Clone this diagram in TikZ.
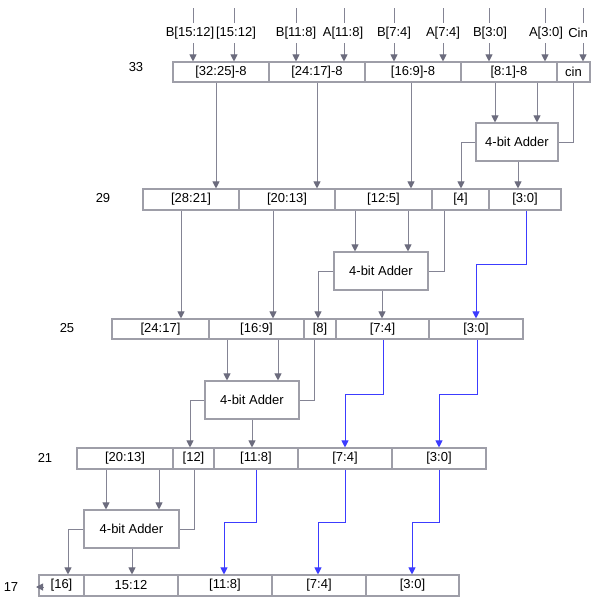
\documentclass[tikz,border=0pt]{standalone}
\usepackage{fontspec}
\setmainfont{Liberation Sans}
\usetikzlibrary{arrows.meta,calc}
\definecolor{lncol}{RGB}{132,132,148}
\definecolor{tipcol}{RGB}{108,108,126}
\definecolor{boxcol}{RGB}{158,158,168}
\definecolor{bluecol}{RGB}{60,60,255}
\tikzset{
  cell/.style={draw=boxcol,line width=1.1pt,inner sep=0pt,minimum height=20pt,font=\fontsize{13}{15}\selectfont},
  adder/.style={draw=boxcol,line width=1.1pt,inner sep=0pt,minimum width=94pt,minimum height=38pt,font=\fontsize{13}{15}\selectfont},
  lbl/.style={inner sep=0pt,font=\fontsize{13}{15}\selectfont},
  ln/.style={draw=lncol,line width=1pt},
  arr/.style={ln,-{Triangle[length=7pt,width=7pt,color=tipcol]}},
  barr/.style={draw=bluecol,line width=1pt,-{Triangle[length=7pt,width=7pt,color=bluecol]}}
}
\begin{document}
\begin{tikzpicture}[x=1pt,y=-1pt]
\useasboundingbox (0,0) rectangle (593,603);
% row labels
\node[lbl] (n33) at (136,67) {33};
\node[lbl] (n29) at (103,198) {29};
\node[lbl] (n25) at (67,328) {25};
\node[lbl] (n21) at (45,458) {21};
\node[lbl] (n17) at (11,587) {17};
% row 1
\node[cell,minimum width=96pt] (r1a) at (221,72) {[32:25]-8};
\node[cell,minimum width=96pt] (r1b) at (317,72) {[24:17]-8};
\node[cell,minimum width=96pt] (r1c) at (413,72) {[16:9]-8};
\node[cell,minimum width=96pt] (r1d) at (509,72) {[8:1]-8};
\node[cell,minimum width=33pt] (r1e) at (573.5,72) {cin};
% row 2
\node[cell,minimum width=96pt,minimum height=21pt] (r2a) at (191,199.5) {[28:21]};
\node[cell,minimum width=96pt,minimum height=21pt] (r2b) at (287,199.5) {[20:13]};
\node[cell,minimum width=97pt,minimum height=21pt] (r2c) at (383.5,199.5) {[12:5]};
\node[cell,minimum width=57pt,minimum height=21pt] (r2d) at (460.5,199.5) {[4]};
\node[cell,minimum width=72pt,minimum height=21pt] (r2e) at (525,199.5) {[3:0]};
% row 3
\node[cell,minimum width=97pt] (r3a) at (160.5,329) {[24:17]};
\node[cell,minimum width=95pt] (r3b) at (256.5,329) {[16:9]};
\node[cell,minimum width=32pt] (r3c) at (320,329) {[8]};
\node[cell,minimum width=93pt] (r3d) at (382.5,329) {[7:4]};
\node[cell,minimum width=94pt] (r3e) at (476,329) {[3:0]};
% row 4
\node[cell,minimum width=96pt,minimum height=21pt] (r4a) at (125,458.5) {[20:13]};
\node[cell,minimum width=41pt,minimum height=21pt] (r4b) at (193.5,458.5) {[12]};
\node[cell,minimum width=84pt,minimum height=21pt] (r4c) at (256,458.5) {[11:8]};
\node[cell,minimum width=94pt,minimum height=21pt] (r4d) at (345,458.5) {[7:4]};
\node[cell,minimum width=94pt,minimum height=21pt] (r4e) at (439,458.5) {[3:0]};
% row 5
\node[cell,minimum width=45pt,minimum height=21pt] (r5a) at (61.5,585.5) {[16]};
\node[cell,minimum width=94pt,minimum height=21pt] (r5b) at (131,585.5) {15:12};
\node[cell,minimum width=94pt,minimum height=21pt] (r5c) at (225,585.5) {[11:8]};
\node[cell,minimum width=94pt,minimum height=21pt] (r5d) at (319,585.5) {[7:4]};
\node[cell,minimum width=93pt,minimum height=21pt] (r5e) at (412.5,585.5) {[3:0]};
% adders
\node[adder,minimum width=82pt] (ad1) at (517,142) {4-bit Adder};
\node[adder] (ad2) at (381,271) {4-bit Adder};
\node[adder] (ad3) at (252,400) {4-bit Adder};
\node[adder,minimum width=95pt] (ad4) at (131.5,529) {4-bit Adder};
% input labels
\node[lbl] (iB15) at (190,33) {B[15:12]};
\node[lbl] (iA15) at (236,33) {[15:12]};
\node[lbl] (iB11) at (296,33) {B[11:8]};
\node[lbl] (iA11) at (343,33) {A[11:8]};
\node[lbl] (iB7) at (394,33) {B[7:4]};
\node[lbl] (iA7) at (443,33) {A[7:4]};
\node[lbl] (iB3) at (490,33) {B[3:0]};
\node[lbl] (iA3) at (546,33) {A[3:0]};
\node[lbl] (iC) at (578,33) {Cin};
% input top stubs and arrows
\foreach \x/\n/\c in {193/iB15/r1a,234/iA15/r1a,296/iB11/r1b,344/iA11/r1b,394/iB7/r1c,443/iA7/r1c,489/iB3/r1d,545/iA3/r1d,583/iC/r1e}{
  \draw[ln] (\x,8) -- (\x,23);
  \draw[arr] (\x,43) -- (\x,0 |- \c.north);
}
% row1 -> row2
\draw[arr] (216,0 |- r1a.south) -- (216,0 |- r2a.north);
\draw[arr] (317,0 |- r1b.south) -- (317,0 |- r2b.north);
\draw[arr] (411,0 |- r1c.south) -- (411,0 |- r2c.north);
\draw[arr] (495,0 |- r1d.south) -- (495,0 |- ad1.north);
\draw[arr] (537,0 |- r1d.south) -- (537,0 |- ad1.north);
\draw[ln] (573,0 |- r1e.south) |- (ad1.east);
\draw[arr] (ad1.west) -| (461,0 |- r2d.north);
\draw[arr] (518,0 |- ad1.south) -- (518,0 |- r2e.north);
% row2 -> row3
\coordinate (b1) at (526,264);
\draw[arr] (181,0 |- r2a.south) -- (181,0 |- r3a.north);
\draw[arr] (273,0 |- r2b.south) -- (273,0 |- r3b.north);
\draw[arr] (355,0 |- r2c.south) -- (355,0 |- ad2.north);
\draw[arr] (408,0 |- r2c.south) -- (408,0 |- ad2.north);
\draw[ln] (444,0 |- r2d.south) |- (ad2.east);
\draw[arr] (ad2.west) -| (318,0 |- r3c.north);
\draw[arr] (382,0 |- ad2.south) -- (382,0 |- r3d.north);
\draw[barr] (b1 |- r2e.south) -- (b1) -| (476,0 |- r3e.north);
% row3 -> row4
\coordinate (b2) at (383,394);
\coordinate (b3) at (477,394);
\draw[arr] (227,0 |- r3b.south) -- (227,0 |- ad3.north);
\draw[arr] (278,0 |- r3b.south) -- (278,0 |- ad3.north);
\draw[ln] (314,0 |- r3c.south) |- (ad3.east);
\draw[arr] (ad3.west) -| (190,0 |- r4b.north);
\draw[arr] (252,0 |- ad3.south) -- (252,0 |- r4c.north);
\draw[barr] (b2 |- r3d.south) -- (b2) -| (345,0 |- r4d.north);
\draw[barr] (b3 |- r3e.south) -- (b3) -| (439,0 |- r4e.north);
% row4 -> row5
\coordinate (b4) at (256,522);
\coordinate (b5) at (345,522);
\coordinate (b6) at (439,522);
\draw[arr] (106,0 |- r4a.south) -- (106,0 |- ad4.north);
\draw[arr] (159,0 |- r4a.south) -- (159,0 |- ad4.north);
\draw[ln] (194,0 |- r4b.south) |- (ad4.east);
\draw[arr] (ad4.west) -| (68,0 |- r5a.north);
\draw[arr] (132,0 |- ad4.south) -- (132,0 |- r5b.north);
\draw[barr] (b4 |- r4c.south) -- (b4) -| (224,0 |- r5c.north);
\draw[barr] (b5 |- r4d.south) -- (b5) -| (318,0 |- r5d.north);
\draw[barr] (b6 |- r4e.south) -- (b6) -| (412,0 |- r5e.north);
% small carry-out stub
\coordinate (co) at (36,587);
\draw[arr] ([xshift=7pt]co) -- (co);
\end{tikzpicture}
\end{document}
